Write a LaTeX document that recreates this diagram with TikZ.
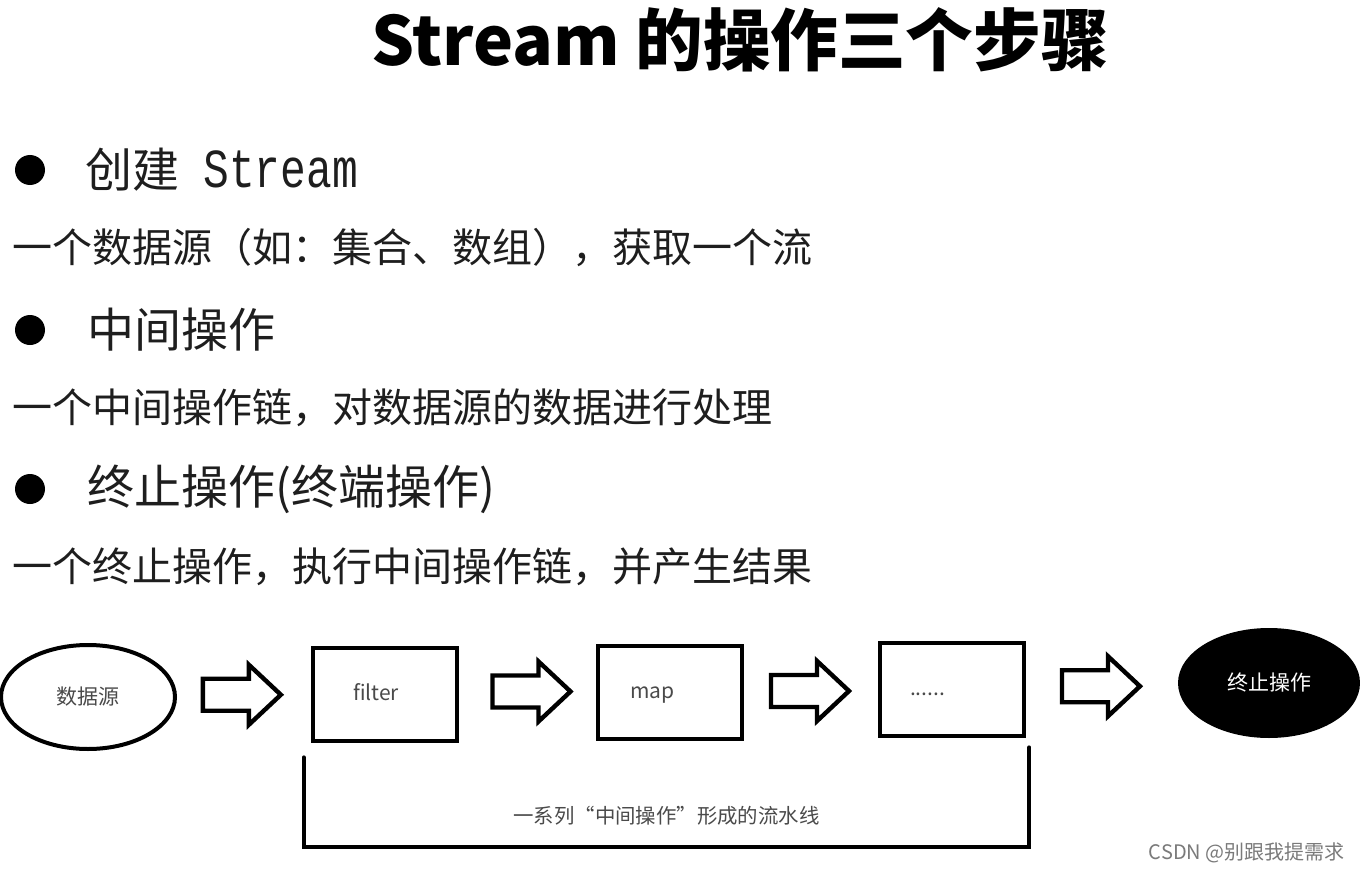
\documentclass[tikz,border=0pt]{standalone}
\usepackage{fontspec}
\setmainfont{Noto Sans CJK SC}
\newfontfamily\cjk{Noto Sans CJK SC}
\newfontfamily\monof[FakeStretch=0.78]{Liberation Mono}
\newfontfamily\wm{Noto Sans CJK SC}
\usetikzlibrary{shapes.geometric,calc}
\definecolor{txt}{HTML}{1E1E1E}
\definecolor{lbl}{HTML}{4A4A4A}
\definecolor{wmc}{HTML}{7A7A7A}
\tikzset{
  bul/.style={circle, fill=black, inner sep=0, minimum size=15pt},
  headtxt/.style={anchor=west, inner sep=0, font=\fontsize{23.5}{28}\selectfont, text=txt},
  bodytxt/.style={anchor=west, inner sep=0, font=\fontsize{20}{24}\selectfont, text=txt},
  opbox/.style={draw, line width=2.3pt, minimum width=72pt, minimum height=46.5pt, inner xsep=16pt, text width=40pt, text height=8pt, text depth=2pt, align=left, font=\fontsize{10.5}{12}\selectfont, text=lbl},
  srcell/.style={draw, ellipse, line width=2pt, minimum width=87pt, minimum height=52pt, inner sep=0, font=\fontsize{10.5}{12}\selectfont, text=lbl},
  endell/.style={ellipse, fill=black, minimum width=91pt, minimum height=55pt, inner sep=0, font=\fontsize{10.5}{12}\selectfont, text=white},
  blk/.style={draw, line width=2.2pt, line join=miter, fill=white},
  brk/.style={draw, line width=1.9pt, line cap=round},
  blockarrow/.pic={\path[blk] (-39,-16) -- (7,-16) -- (7,-30) -- (39,0) -- (7,30) -- (7,16) -- (-39,16) -- cycle;}
}
\begin{document}
\begin{tikzpicture}[x=0.5pt,y=-0.5pt]
\useasboundingbox[fill=white] (0,0) rectangle (1360,872);
% title
\node (title) at (740,40) {\fontsize{33.8}{40}\selectfont\bfseries Stream 的操作三个步骤};
% bullets and headings
\node[bul] (b1) at (30,170) {};
\node[headtxt] (h1) at (85,170) {创建\hspace{12pt}{\monof\fontsize{27.5}{30}\selectfont Stream}};
\node[bodytxt] (t1) at (12,248) {一个数据源（如：集合、数组），获取一个流};
\node[bul] (b2) at (30,330) {};
\node[headtxt] (h2) at (87,330) {中间操作};
\node[bodytxt] (t2) at (12,408) {一个中间操作链，对数据源的数据进行处理};
\node[bul] (b3) at (30,489) {};
\node[headtxt] (h3) at (87,489) {终止操作(终端操作)};
\node[bodytxt] (t3) at (12,567) {一个终止操作，执行中间操作链，并产生结果};
% diagram
\node[srcell] (src) at (88,697) {数据源};
\node[opbox] (f) at (385,694.5) {\hspace{4pt}filter};
\node[opbox] (m) at (670,692.5) {map};
\node[opbox] (d) at (952,689.5) {\hspace{-1pt}......};
\node[endell] (e) at (1269,683) {终止操作};
\coordinate (a1) at ($(src.east|-src.center)!0.5!(f.west)$);
\coordinate (a2) at ($(f.east)!0.5!(m.west)$);
\coordinate (a3) at ($(m.east)!0.5!(d.west)$);
\coordinate (a4) at ($(d.east)!0.5!(e.west)$);
\pic at ([xshift=-1pt,yshift=0.5pt]a1) {blockarrow};
\pic at ([xshift=2pt,yshift=1pt]a2) {blockarrow};
\pic at ([xshift=-0.5pt]a3) {blockarrow};
\pic at ([xshift=-0.5pt]a4) {blockarrow};
% bracket
\coordinate (L1) at ([shift={(-7,14)}]f.south west);
\coordinate (L2) at ([shift={(-7,104)}]f.south west);
\coordinate (R1) at ([shift={(3,9)}]d.south east);
\coordinate (R2) at (L2 -| R1);
\draw[brk] (L1) -- (L2) -- (R2) -- (R1);
\node[font=\fontsize{10.2}{12}\selectfont, text=lbl] (pl) at ([yshift=16pt]$(L2)!0.5!(R2)$) {一系列“中间操作”形成的流水线};
% watermark
\node[anchor=east, font=\wm\fontsize{10}{12}\selectfont, text=wmc, inner sep=0] (wmk) at (1345,853) {CSDN @别跟我提需求};
\end{tikzpicture}
\end{document}
